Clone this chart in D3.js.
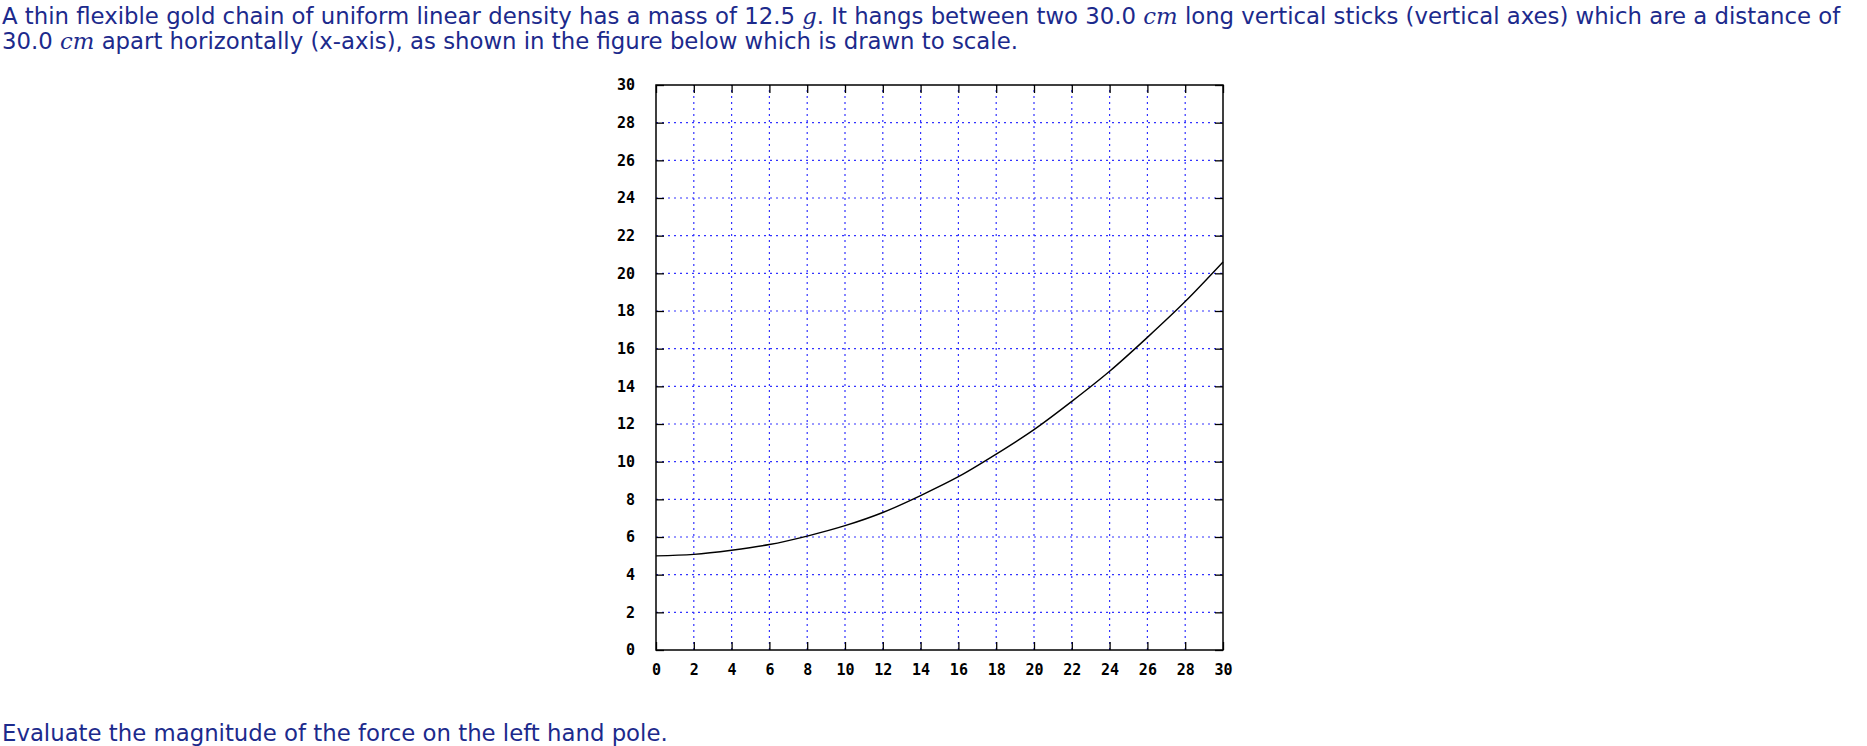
<!DOCTYPE html>
<html><head><meta charset="utf-8">
<script src="https://cdn.jsdelivr.net/npm/d3@7"></script>
<style>
body{margin:0;background:#fff;font-family:"DejaVu Sans",Verdana,sans-serif;color:#1c2a8c;}
.p{position:absolute;left:2px;font-size:22.8px;white-space:nowrap;}
.m{font-family:"DejaVu Serif",serif;font-style:italic;}
.tick text{font-family:"DejaVu Sans Mono",monospace;font-weight:bold;font-size:15px;fill:#000;}
</style></head><body>
<div class="p" style="top:3px">A thin flexible gold chain of uniform linear density has a mass of 12.5 <span class="m">g</span>. It hangs between two 30.0 <span class="m">cm</span> long vertical sticks (vertical axes) which are a distance of</div>
<div class="p" style="top:28px">30.0 <span class="m">cm</span> apart horizontally (x-axis), as shown in the figure below which is drawn to scale.</div>
<div class="p" style="top:720px">Evaluate the magnitude of the force on the left hand pole.</div>
<svg id="c" width="1867" height="746" style="position:absolute;left:0;top:0"></svg>
<script>
const xTicks = d3.range(0, 31, 2);
const yTicks = d3.range(0, 31, 2);
const chainX = [0, 2, 4, 6, 8, 10, 12, 14, 16, 18, 20, 22, 24, 26, 28, 30];
const chainY = [5.0, 5.08, 5.3, 5.6, 6.05, 6.6, 7.3, 8.2, 9.2, 10.4, 11.7, 13.2, 14.8, 16.6, 18.5, 20.6];

const svg = d3.select("#c");
const x = d3.scaleLinear().domain([0, 30]).range([656, 1223]);
const y = d3.scaleLinear().domain([0, 30]).range([650, 85]);

// grid
svg.append("g").selectAll("line").data(xTicks.slice(1, -1)).join("line")
  .attr("x1", d => x(d)).attr("x2", d => x(d)).attr("y1", y(0)).attr("y2", y(30))
  .attr("stroke", "#3333ff").attr("stroke-width", 1.2).attr("stroke-dasharray", "2,4");
svg.append("g").selectAll("line").data(yTicks.slice(1, -1)).join("line")
  .attr("y1", d => y(d)).attr("y2", d => y(d)).attr("x1", x(0)).attr("x2", x(30))
  .attr("stroke", "#3333ff").attr("stroke-width", 1.2).attr("stroke-dasharray", "2,4");

// axes with inward ticks
const ax = (g, a) => { g.call(a); g.select(".domain").remove(); g.selectAll(".tick line").attr("stroke", "#000").attr("stroke-width", 1.3); };
svg.append("g").attr("transform", `translate(0,${y(0)})`)
  .call(g => ax(g, d3.axisBottom(x).tickValues(xTicks).tickSize(-8).tickPadding(14).tickFormat(d3.format("d"))));
svg.append("g").attr("transform", `translate(0,${y(30)})`)
  .call(g => { ax(g, d3.axisTop(x).tickValues(xTicks).tickSize(-8)); g.selectAll("text").remove(); });
svg.append("g").attr("transform", `translate(${x(0)},0)`)
  .call(g => ax(g, d3.axisLeft(y).tickValues(yTicks).tickSize(-8).tickPadding(21).tickFormat(d3.format("d"))));
svg.append("g").attr("transform", `translate(${x(30)},0)`)
  .call(g => { ax(g, d3.axisRight(y).tickValues(yTicks).tickSize(-8)); g.selectAll("text").remove(); });

svg.append("rect").attr("x", x(0)).attr("y", y(30)).attr("width", x(30) - x(0)).attr("height", y(0) - y(30))
  .attr("fill", "none").attr("stroke", "#000").attr("stroke-width", 1.5);

// chain
svg.append("path").datum(chainX.map((d, i) => [d, chainY[i]]))
  .attr("fill", "none").attr("stroke", "#000").attr("stroke-width", 1.4)
  .attr("d", d3.line().x(d => x(d[0])).y(d => y(d[1])).curve(d3.curveMonotoneX));
</script>
</body></html>
